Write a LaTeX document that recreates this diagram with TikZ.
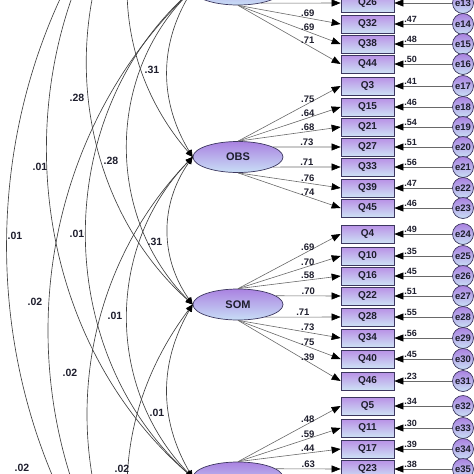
\documentclass[tikz,border=0pt]{standalone}
\usepackage{fontspec}
\setmainfont{Liberation Sans}
\usetikzlibrary{arrows.meta,shapes.geometric}

\definecolor{edge}{RGB}{60,55,95}
\definecolor{ink}{RGB}{30,30,45}
\definecolor{linegray}{RGB}{105,105,105}
\definecolor{boxtop}{RGB}{185,145,230}
\definecolor{boxbot}{RGB}{205,225,245}
\definecolor{lattop}{RGB}{170,130,225}
\definecolor{latbot}{RGB}{200,222,246}

\tikzset{
  item/.style={draw=edge, line width=0.7pt, top color=boxtop, bottom color=boxbot,
    minimum width=53pt, minimum height=18pt, inner sep=0pt,
    font=\fontsize{10}{10}\selectfont\bfseries, text=ink},
  latent/.style={ellipse, draw=edge, line width=0.7pt, top color=lattop, bottom color=latbot,
    minimum width=90pt, minimum height=31pt, inner sep=0pt,
    font=\fontsize{11}{11}\selectfont\bfseries, text=ink},
  err/.style={circle, draw=edge, line width=0.7pt, top color=lattop, bottom color=latbot,
    minimum size=21pt, inner sep=0pt, font=\fontsize{9.5}{9.5}\selectfont\bfseries, text=ink},
  load/.style={draw=linegray, line width=0.6pt, -{Triangle[length=9pt,width=7pt,color=black]}},
  cov/.style={draw=black!75, line width=0.65pt,
    {Triangle[length=7pt,width=6pt,color=black]}-{Triangle[length=7pt,width=6pt,color=black]}},
  ld/.style={above, inner sep=1pt, font=\fontsize{9.5}{9.5}\selectfont\bfseries, text=ink},
  var/.style={above, pos=.72, inner sep=1.5pt, font=\fontsize{9}{9}\selectfont\bfseries, text=ink},
  covlbl/.style={font=\fontsize{10.5}{10.5}\selectfont\bfseries, text=ink}
}

\begin{document}
\begin{tikzpicture}[x=1pt,y=-1pt]
\useasboundingbox (0,0) rectangle (474,474);
\clip (0,0) rectangle (474,474);

% factors
\node[latent] (f2) at (238,-10.5) {};
\node[latent] (obs) at (238,157) {OBS};
\node[latent] (som) at (238,304.5) {SOM};
\node[latent] (f5) at (238,477.5) {};
\coordinate (f1) at (193,-180);
\coordinate (f6) at (193,672);

% first factor (cut off)
\node[item] (q26) at (367.5,3) {Q26};
\node[item] (q32) at (367.5,24) {Q32};
\node[item] (q38) at (367.5,44) {Q38};
\node[item] (q44) at (367.5,64) {Q44};
\node[err] (e13) at (463,3) {e13};
\node[err] (e14) at (463,24) {e14};
\node[err] (e15) at (463,44) {e15};
\node[err] (e16) at (463,64) {e16};
\draw[load] (f2.-31) -- (q26.west);
\draw[load] (f2.south) -- node[ld, pos=.68] {.69} (q32.west);
\draw[load] (f2.south) -- node[ld, pos=.68] {.69} (q38.west);
\draw[load] (f2.south) -- node[ld, pos=.68] {.71} (q44.west);
\draw[load] (e13) -- (q26);
\draw[load] (e14) -- node[var] {.47} (q32);
\draw[load] (e15) -- node[var] {.48} (q38);
\draw[load] (e16) -- node[var] {.50} (q44);

% OBS
\node[item] (q3) at (367.5,86) {Q3};
\node[item] (q15) at (367.5,107) {Q15};
\node[item] (q21) at (367.5,127) {Q21};
\node[item] (q27) at (367.5,147) {Q27};
\node[item] (q33) at (367.5,167) {Q33};
\node[item] (q39) at (367.5,188) {Q39};
\node[item] (q45) at (367.5,208) {Q45};
\node[err] (e17) at (463,86) {e17};
\node[err] (e18) at (463,107) {e18};
\node[err] (e19) at (463,127) {e19};
\node[err] (e20) at (463,147) {e20};
\node[err] (e21) at (463,167) {e21};
\node[err] (e22) at (463,188) {e22};
\node[err] (e23) at (463,208) {e23};
\draw[load] (obs.north) -- node[ld, pos=.68] {.75} (q3.west);
\draw[load] (obs.north) -- node[ld, pos=.68] {.64} (q15.west);
\draw[load] (obs.north) -- node[ld, pos=.68] {.68} (q21.west);
\draw[load] (obs.16) -- node[ld, pos=.5] {.73} (q27.west);
\draw[load] (obs.-16) -- node[ld, pos=.5] {.71} (q33.west);
\draw[load] (obs.south) -- node[ld, pos=.68] {.76} (q39.west);
\draw[load] (obs.south) -- node[ld, pos=.68] {.74} (q45.west);
\draw[load] (e17) -- node[var] {.41} (q3);
\draw[load] (e18) -- node[var] {.46} (q15);
\draw[load] (e19) -- node[var] {.54} (q21);
\draw[load] (e20) -- node[var] {.51} (q27);
\draw[load] (e21) -- node[var] {.56} (q33);
\draw[load] (e22) -- node[var] {.47} (q39);
\draw[load] (e23) -- node[var] {.46} (q45);

% SOM
\node[item] (q4) at (367.5,234) {Q4};
\node[item] (q10) at (367.5,256) {Q10};
\node[item] (q16) at (367.5,276) {Q16};
\node[item] (q22) at (367.5,296) {Q22};
\node[item] (q28) at (367.5,317) {Q28};
\node[item] (q34) at (367.5,338) {Q34};
\node[item] (q40) at (367.5,359) {Q40};
\node[item] (q46) at (367.5,381) {Q46};
\node[err] (e24) at (463,234) {e24};
\node[err] (e25) at (463,256) {e25};
\node[err] (e26) at (463,276) {e26};
\node[err] (e27) at (463,296) {e27};
\node[err] (e28) at (463,317) {e28};
\node[err] (e29) at (463,338) {e29};
\node[err] (e30) at (463,359) {e30};
\node[err] (e31) at (463,381) {e31};
\draw[load] (som.north) -- node[ld, pos=.68] {.69} (q4.west);
\draw[load] (som.north) -- node[ld, pos=.68] {.70} (q10.west);
\draw[load] (som.north) -- node[ld, pos=.68] {.58} (q16.west);
\draw[load] (som.13) -- node[ld, pos=.5] {.70} (q22.west);
\draw[load] (som.-25) -- node[ld, pos=.5] {.71} (q28.west);
\draw[load] (som.south) -- node[ld, pos=.68] {.73} (q34.west);
\draw[load] (som.south) -- node[ld, pos=.68] {.75} (q40.west);
\draw[load] (som.south) -- node[ld, pos=.68] {.39} (q46.west);
\draw[load] (e24) -- node[var] {.49} (q4);
\draw[load] (e25) -- node[var] {.35} (q10);
\draw[load] (e26) -- node[var] {.45} (q16);
\draw[load] (e27) -- node[var] {.51} (q22);
\draw[load] (e28) -- node[var] {.55} (q28);
\draw[load] (e29) -- node[var] {.56} (q34);
\draw[load] (e30) -- node[var] {.45} (q40);
\draw[load] (e31) -- node[var] {.23} (q46);

% last factor (cut off)
\node[item] (q5) at (367.5,406) {Q5};
\node[item] (q11) at (367.5,428) {Q11};
\node[item] (q17) at (367.5,449) {Q17};
\node[item] (q23) at (367.5,469) {Q23};
\node[err] (e32) at (463,406) {e32};
\node[err] (e33) at (463,428) {e33};
\node[err] (e34) at (463,449) {e34};
\node[err] (e35) at (463,469) {e35};
\draw[load] (f5.north) -- node[ld, pos=.68] {.48} (q5.west);
\draw[load] (f5.north) -- node[ld, pos=.68] {.59} (q11.west);
\draw[load] (f5.north) -- node[ld, pos=.68] {.44} (q17.west);
\draw[load] (f5.13) -- node[ld, pos=.5] {.63} (q23.west);
\draw[load] (e32) -- node[var] {.34} (q5);
\draw[load] (e33) -- node[var] {.30} (q11);
\draw[load] (e34) -- node[var] {.39} (q17);
\draw[load] (e35) -- node[var] {.38} (q23);

% covariances
\draw[cov] (f2.west) to[bend right=31] (obs.west);
\draw[cov] (obs.west) to[bend right=35] (som.west);
\draw[cov] (som.west) to[bend right=30] (f5.west);
\draw[cov] (f1) to[bend right=41] (obs.west);
\draw[cov] (f2.west) to[bend right=45] (som.west);
\draw[cov] (obs.west) to[bend right=44] (f5.west);
\draw[cov] (som.west) to[bend right=37] (f6);
\draw[cov] (f1) to[bend right=48] (som.west);
\draw[cov] (f2.west) to[bend right=48] (f5.west);
\draw[cov] (obs.west) to[bend right=44] (f6);
\draw[cov] (f1) to[bend right=49] (f5.west);
\draw[cov] (f2.west) to[bend right=46] (f6);
\draw[cov] (f1) to[bend right=48] (f6);
\node[covlbl] at (152,70) {.31};
\node[covlbl] at (77,98) {.28};
\node[covlbl] at (111,161) {.28};
\node[covlbl] at (40,167) {.01};
\node[covlbl] at (15,236) {.01};
\node[covlbl] at (77,234) {.01};
\node[covlbl] at (155,242) {.31};
\node[covlbl] at (35,302) {.02};
\node[covlbl] at (115,316) {.01};
\node[covlbl] at (70,373) {.02};
\node[covlbl] at (157,413) {.01};
\node[covlbl] at (122,469) {.02};
\node[covlbl] at (22,468) {.02};

\end{tikzpicture}
\end{document}
